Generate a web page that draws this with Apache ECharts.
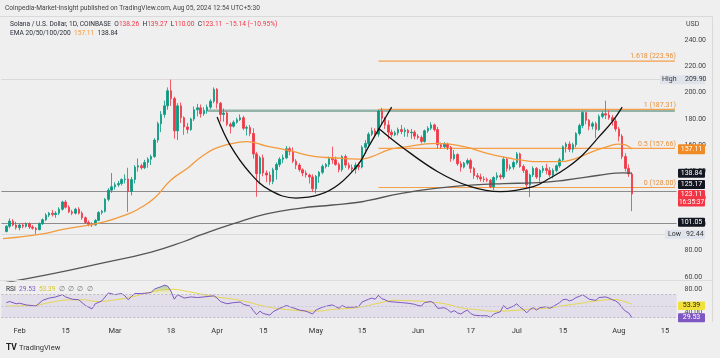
<!DOCTYPE html>
<html><head><meta charset="utf-8">
<script src="https://cdn.jsdelivr.net/npm/echarts@6.0.0/dist/echarts.min.js"></script>
<style>html,body{margin:0;padding:0;background:#efefef;}#c{width:720px;height:358px;}</style>
</head><body><div id="c"></div>
<script>
// ---------- DATA ----------
const axisStart = '2024-01-27';
const axisDays = 205;
const candleStart = '2024-01-28';
// [open, close, low, high], one per day from candleStart
const ohlc = [
[94.5,98.5,94.0,99.5],[98.5,102.5,97.0,104.5],[102.5,99.5,98.5,104.0],[99.5,97.5,96.0,102.0],
// Feb
[97.5,99.5,95.5,100.5],[99.5,98.5,97.0,101.0],[98.5,100.5,97.5,101.5],[100.5,98.0,96.5,101.5],[98.0,97.0,96.0,99.5],
[97.0,96.0,92.44,98.0],[96.0,100.5,95.5,101.5],[100.5,103.5,99.5,104.5],[103.5,107.0,102.5,108.5],[107.0,108.5,105.5,109.5],
[108.5,107.5,106.0,111.0],[107.5,108.5,105.0,110.0],[108.5,111.5,107.0,113.0],[111.5,117.0,110.5,118.0],[117.0,113.0,112.0,118.5],
[113.0,109.5,108.5,114.5],[109.5,108.5,107.0,111.0],[108.5,111.5,107.5,112.5],[111.5,108.5,107.5,113.0],[108.5,105.0,103.5,110.0],
[105.0,101.5,100.5,106.0],[101.5,100.0,98.5,103.0],[100.0,99.5,98.0,101.5],[99.5,103.0,99.0,104.0],[103.0,109.0,102.5,110.0],
[109.0,110.0,107.5,111.0],[110.0,119.0,109.0,120.0],[119.0,126.0,117.5,127.5],[126.0,128.5,124.0,139.0],
// Mar
[128.5,130.0,126.5,132.0],[130.0,131.0,128.5,133.0],[131.0,134.0,129.5,135.0],[134.0,134.5,131.0,138.0],[134.5,125.0,109.5,143.0],
[125.0,134.0,122.0,136.0],[134.0,143.5,131.0,145.0],[143.5,144.5,140.0,150.0],[144.5,143.0,141.5,146.0],[143.0,147.0,142.0,149.0],
[147.0,149.5,143.0,151.0],[149.5,151.5,145.0,153.0],[151.5,164.0,150.5,165.5],[164.0,176.5,162.0,178.0],[176.5,183.5,170.0,186.0],
[183.5,190.0,181.0,194.0],[190.0,201.5,187.0,204.0],[201.5,195.5,190.0,209.9],[195.5,171.0,165.0,197.0],[171.0,190.0,164.0,192.0],
[190.0,181.0,177.0,192.5],[181.0,174.0,168.0,182.0],[174.0,172.0,169.0,177.0],[172.0,180.0,171.0,181.0],[180.0,187.0,178.5,189.5],
[187.0,188.5,182.0,191.5],[188.5,184.0,181.0,191.0],[184.0,186.5,182.5,189.0],[186.5,189.0,184.0,191.0],[189.0,193.5,187.5,195.0],
[193.5,202.5,192.0,204.0],
// Apr
[202.5,192.0,188.0,203.5],[192.0,183.5,178.0,193.0],[183.5,184.5,178.0,188.0],[184.5,176.0,174.5,186.0],[176.0,174.5,169.0,177.5],
[174.5,177.5,173.5,179.0],[177.5,179.5,176.5,181.0],[179.5,181.0,178.5,183.5],[181.0,173.0,171.5,182.5],[173.0,173.5,167.5,175.0],
[173.5,169.0,167.0,175.5],[169.0,153.5,150.0,173.0],[153.5,138.5,121.0,155.0],[138.5,150.5,130.5,152.0],[150.5,139.0,136.5,153.0],
[139.0,137.5,132.0,141.0],[137.5,132.5,130.0,140.0],[132.5,141.5,130.5,143.0],[141.5,145.5,134.0,147.0],[145.5,149.5,143.5,151.0],
[149.5,150.5,146.5,153.0],[150.5,157.5,149.5,159.5],[157.5,155.5,152.5,159.0],[155.5,148.0,146.5,158.5],[148.0,145.0,142.0,149.5],
[145.0,141.5,140.0,146.5],[141.5,139.0,136.5,142.5],[139.0,137.5,135.5,141.0],[137.5,136.0,131.0,138.5],[136.0,127.0,124.5,138.0],
// May
[127.0,136.5,123.5,137.5],[136.5,139.5,131.5,140.5],[139.5,144.0,138.0,145.5],[144.0,145.5,142.5,146.5],[145.5,150.0,143.5,151.5],
[150.0,149.0,146.0,159.0],[149.0,145.5,144.5,151.5],[145.5,141.5,139.5,147.0],[141.5,151.5,140.0,152.5],[151.5,145.0,143.0,153.0],
[145.0,143.0,141.5,147.0],[143.0,142.0,140.0,145.5],[142.0,145.0,138.5,147.0],[145.0,143.5,141.0,147.0],[143.5,158.5,142.5,160.0],
[158.5,161.5,155.5,164.0],[161.5,168.5,160.0,170.0],[168.5,171.0,167.0,173.5],[171.0,168.5,166.0,173.0],[168.5,186.0,166.5,187.0],
[186.0,180.5,176.0,188.5],[180.5,175.5,172.5,181.5],[175.5,170.0,164.5,179.0],[170.0,168.0,166.0,172.0],[168.0,169.5,167.0,171.0],
[169.5,172.0,167.5,173.5],[172.0,170.5,168.5,175.5],[170.5,171.5,166.5,173.5],[171.5,169.5,166.5,172.5],[169.5,170.0,165.0,172.5],
[170.0,167.0,164.5,171.5],
// Jun
[167.0,166.0,164.5,168.5],[166.0,163.0,161.5,167.5],[163.0,171.0,162.0,172.0],[171.0,173.0,169.5,174.5],[173.0,175.5,171.5,177.5],
[175.5,172.0,170.5,176.5],[172.0,160.5,157.5,174.0],[160.5,159.0,157.5,162.0],[159.0,161.0,158.0,162.5],[161.0,158.5,156.5,162.0],
[158.5,150.0,147.5,159.5],[150.0,153.0,148.5,156.5],[153.0,146.0,144.5,154.0],[146.0,143.5,140.0,148.0],[143.5,146.5,142.5,147.5],
[146.5,148.5,145.0,150.0],[148.5,142.5,139.0,150.0],[142.5,137.0,134.5,143.5],[137.0,136.0,134.0,139.0],[136.0,134.5,132.5,138.5],
[134.5,134.0,132.0,136.5],[134.0,133.5,132.0,135.5],[133.5,128.5,127.5,134.5],[128.5,135.5,126.0,136.5],[135.5,137.0,133.5,139.5],
[137.0,136.0,134.0,138.5],[136.0,149.5,134.5,151.5],[149.5,142.5,140.0,151.0],[142.5,143.5,141.0,145.5],[143.5,147.0,141.5,148.5],
// Jul
[147.0,153.5,145.5,155.0],[153.5,144.0,143.0,154.5],[144.0,141.0,139.0,145.5],[141.0,130.0,128.0,142.0],[130.0,137.5,120.8,138.5],
[137.5,142.5,136.0,144.0],[142.5,136.0,134.5,143.5],[136.0,141.0,132.5,142.0],[141.0,142.5,139.0,144.5],[142.5,141.0,138.0,146.0],
[141.0,137.5,136.0,143.5],[137.5,141.0,135.0,142.5],[141.0,144.5,139.5,145.5],[144.5,149.0,143.0,150.5],[149.0,159.0,147.5,160.0],
[159.0,161.0,154.5,162.5],[161.0,157.0,155.0,163.0],[157.0,160.5,154.5,162.0],[160.5,169.0,158.5,170.0],[169.0,175.0,167.5,176.5],
[175.0,185.0,173.0,186.0],[185.0,179.0,176.0,185.5],[179.0,174.5,171.5,180.0],[174.5,176.5,172.0,178.0],[176.5,172.0,165.5,178.0],
[172.0,182.0,171.0,183.5],[182.0,184.0,180.5,186.0],[184.0,183.0,180.0,193.9],[183.0,181.0,179.5,186.5],[181.0,178.5,175.0,183.0],
[178.5,172.5,170.5,180.5],
// Aug
[172.5,167.0,163.0,174.0],[167.0,151.5,149.5,168.5],[151.5,142.5,140.0,154.0],[142.5,138.26,136.0,145.5],[138.26,123.11,110.00,139.27]
];
const ema50 = [['2024-01-27',89.2],['2024-02-06',92],['2024-02-15',96.5],['2024-02-22',99.5],['2024-02-27',102],['2024-03-05',108],['2024-03-08',111.5],['2024-03-13',120],['2024-03-18',133.7],['2024-03-23',142.6],['2024-03-28',152.7],['2024-04-02',159],['2024-04-07',162],['2024-04-10',162.8],['2024-04-16',159.5],['2024-04-23',156],['2024-05-01',151.4],['2024-05-06',150.6],['2024-05-14',149.6],['2024-05-18',151.5],['2024-05-23',156.5],['2024-05-27',158.5],['2024-06-07',161.5],['2024-06-15',159],['2024-06-22',154],['2024-06-29',150.2],['2024-07-02',148.9],['2024-07-08',147.6],['2024-07-14',147.6],['2024-07-19',150.2],['2024-07-24',155.2],['2024-07-29',159.5],['2024-08-01',161],['2024-08-03',160.3],['2024-08-05',157.11]];
const ema200 = [['2024-01-27',55.5],['2024-02-10',62],['2024-02-25',70],['2024-03-12',79],['2024-03-22',87],['2024-03-27',92],['2024-04-06',100.5],['2024-04-16',107.9],['2024-04-26',112.2],['2024-05-06',114.7],['2024-05-14',116.8],['2024-05-17',118.2],['2024-05-27',123.5],['2024-06-07',127.5],['2024-06-17',129.8],['2024-06-27',131],['2024-07-06',131.5],['2024-07-16',133.7],['2024-07-26',137.3],['2024-07-31',138.9],['2024-08-02',139.1],['2024-08-05',138.84]];
const rsi = [['2024-01-28',56],['2024-01-29',58],['2024-01-31',54],['2024-02-01',55],['2024-02-03',52],['2024-02-06',50],['2024-02-08',60],['2024-02-10',64],['2024-02-12',66],['2024-02-14',70],['2024-02-15',66],['2024-02-17',62],['2024-02-19',61],['2024-02-21',51],['2024-02-23',45],['2024-02-24',54],['2024-02-26',59],['2024-02-27',66],['2024-02-28',73],['2024-03-01',70],['2024-03-03',72],['2024-03-04',68],['2024-03-05',61],['2024-03-06',67],['2024-03-07',72],['2024-03-09',72],['2024-03-11',73],['2024-03-12',74],['2024-03-13',80],['2024-03-15',84],['2024-03-16',86.7],['2024-03-17',85],['2024-03-18',76],['2024-03-19',62],['2024-03-20',70],['2024-03-22',64],['2024-03-24',66],['2024-03-26',65],['2024-03-28',66],['2024-03-31',68],['2024-04-01',64],['2024-04-02',58],['2024-04-04',54],['2024-04-06',56],['2024-04-08',57],['2024-04-09',53],['2024-04-11',50],['2024-04-12',42],['2024-04-13',35],['2024-04-14',41],['2024-04-15',37],['2024-04-17',34],['2024-04-18',40],['2024-04-20',46],['2024-04-22',51],['2024-04-24',47],['2024-04-26',43],['2024-04-28',41],['2024-04-30',36],['2024-05-01',43],['2024-05-03',48],['2024-05-05',51],['2024-05-06',52],['2024-05-08',46],['2024-05-09',51],['2024-05-10',48],['2024-05-12',48],['2024-05-14',49],['2024-05-15',57],['2024-05-17',62],['2024-05-18',64],['2024-05-19',62],['2024-05-20',69],['2024-05-21',63],['2024-05-22',61],['2024-05-23',58],['2024-05-25',57],['2024-05-27',56],['2024-05-29',55],['2024-05-31',53],['2024-06-01',51],['2024-06-02',50],['2024-06-03',56],['2024-06-05',58],['2024-06-06',54],['2024-06-07',46],['2024-06-09',47],['2024-06-10',44],['2024-06-11',39],['2024-06-12',42],['2024-06-13',38],['2024-06-14',36],['2024-06-15',40],['2024-06-16',43],['2024-06-17',37],['2024-06-18',34],['2024-06-20',33],['2024-06-22',33],['2024-06-23',30],['2024-06-24',36],['2024-06-26',40],['2024-06-27',51],['2024-06-28',45],['2024-06-30',50],['2024-07-01',54],['2024-07-02',48],['2024-07-03',44],['2024-07-04',38],['2024-07-05',44],['2024-07-06',47],['2024-07-07',43],['2024-07-08',47],['2024-07-10',49],['2024-07-11',46],['2024-07-12',49],['2024-07-14',56],['2024-07-15',61],['2024-07-16',62],['2024-07-17',59],['2024-07-18',61],['2024-07-19',65],['2024-07-20',67],['2024-07-21',70],['2024-07-22',66],['2024-07-23',62],['2024-07-25',60],['2024-07-26',65],['2024-07-28',66],['2024-07-29',64],['2024-07-30',61],['2024-07-31',59],['2024-08-01',55],['2024-08-02',47],['2024-08-03',41],['2024-08-04',38],['2024-08-05',29.53]];
const rsiMa = [['2024-01-28',50],['2024-02-05',51],['2024-02-10',56],['2024-02-15',60.5],['2024-02-20',61],['2024-02-25',58],['2024-03-01',61],['2024-03-06',66],['2024-03-13',76],['2024-03-18',79.4],['2024-03-23',75.6],['2024-03-31',66.7],['2024-04-08',60],['2024-04-16',49],['2024-04-22',44],['2024-05-01',41.1],['2024-05-06',43.9],['2024-05-14',47.8],['2024-05-20',55],['2024-05-25',60],['2024-05-31',59],['2024-06-05',57],['2024-06-10',53],['2024-06-14',47],['2024-06-20',43],['2024-06-24',41],['2024-07-01',42.5],['2024-07-06',45],['2024-07-10',46],['2024-07-15',50.5],['2024-07-20',54.5],['2024-07-25',59],['2024-07-31',61.5],['2024-08-02',59],['2024-08-05',53.39]];
const cup1 = [['2024-04-01',181.5],['2024-04-05',160],['2024-04-11',139],['2024-04-17',126],['2024-04-25',120],['2024-05-02',122.5],['2024-05-08',130.5],['2024-05-14',146],['2024-05-17',159],['2024-05-20',172],['2024-05-24',189]];
const cup2 = [['2024-05-20',173],['2024-05-27',159],['2024-06-07',140],['2024-06-17',128.6],['2024-06-26',124.8],['2024-07-06',128.6],['2024-07-11',135],['2024-07-16',142.6],['2024-07-21',152.7],['2024-07-26',166.6],['2024-07-30',178],['2024-08-02',189]];
const necklineStart = '2024-03-29', necklinePrice = 186.3;
const fibStart = '2024-05-20';
const fibRatios = ['1.618','1','0.5','0'];
const fibPrices = [223.96,187.31,157.66,128.00];
const levelLines = [125.17, 101.05];
const highLow = [209.90, 92.44];
const priceTicks = [60,80,100,120,140,160,180,200,220,240];
const rsiTicks = [40,80];
const rsiBands = [70,50,30];
const xTickDates = ['2024-02-01','2024-02-15','2024-03-01','2024-03-18','2024-04-01','2024-04-15','2024-05-01','2024-05-15','2024-06-01','2024-06-17','2024-07-01','2024-07-15','2024-08-01','2024-08-15'];
const xTickLabels = ['Feb','15','Mar','18','Apr','15','May','15','Jun','17','Jul','15','Aug','15'];

// ---------- BUILD ----------
function dayStr(base, n){ const t=new Date(base+'T00:00:00Z'); t.setUTCDate(t.getUTCDate()+n); return t.toISOString().slice(0,10); }
const categories = []; for (let i=0;i<axisDays;i++) categories.push(dayStr(axisStart,i));
const lastCat = categories[categories.length-1];
const candleData = ohlc.map((v,i)=>[dayStr(candleStart,i), v[0], v[1], v[2], v[3]]);
const tickMap = {}; xTickDates.forEach((d,i)=>tickMap[d]=xTickLabels[i]);

const FONTN = 'Roboto';
const GREEN='#089981', RED='#f23645', ORANGE='#f39a3c', FIB='#f7a04c', PURPLE='#7e57c2', YELLOW='#e6d64a';

const chart = echarts.init(document.getElementById('c'), null, {width:720, height:358});
const levelMarks = [];
levelLines.forEach(v=>levelMarks.push({yAxis:v, lineStyle:{color:'#8c8c8c', width:1, type:'solid'}}));
highLow.forEach(v=>levelMarks.push({yAxis:v, lineStyle:{color:'#d9d9d9', width:1, type:'solid'}}));
const fibSeries = fibPrices.map((p,i)=>({
  type:'line', xAxisIndex:0, yAxisIndex:0, silent:true, symbol:'none', z:2,
  data:[[fibStart,p],[lastCat,p]], lineStyle:{color:FIB, width:1.2},
  endLabel:{show:true, formatter: fibRatios[i]+' ('+p.toFixed(2)+')', align:'right', verticalAlign:'bottom', distance:1, offset:[0,-1],
    color:'#e8903a', fontSize:7, fontFamily:FONTN}
}));

const option = {
  animation:false,
  backgroundColor:'#efefef',
  grid:[{left:1.4, right:43.5, top:40, height:241},{left:1.4, right:43.5, top:281, height:41}],
  xAxis:[
    {type:'category', data:categories, gridIndex:0, show:false},
    {type:'category', data:categories, gridIndex:1, axisLine:{show:false}, axisTick:{show:false}, splitLine:{show:false},
     axisLabel:{interval:(i,v)=>tickMap[v]!==undefined, formatter:v=>tickMap[v]||'', fontSize:7.5, color:'#333', margin:5, fontFamily:FONTN}}
  ],
  yAxis:[
    {type:'value', gridIndex:0, position:'right', min:57, max:240, splitLine:{show:false}, axisLine:{show:false}, axisTick:{show:false},
     axisLabel:{customValues:priceTicks, formatter:v=>Number(v).toFixed(2), fontSize:7, color:'#444', margin:8, fontFamily:FONTN}},
    {type:'value', gridIndex:1, position:'right', min:22, max:94, splitLine:{show:false}, axisLine:{show:false}, axisTick:{show:false},
     axisLabel:{customValues:rsiTicks, formatter:v=>Number(v).toFixed(2), fontSize:7, color:'#444', margin:8, fontFamily:FONTN}}
  ],
  series:[
    {type:'line', name:'neck', xAxisIndex:0, yAxisIndex:0, data:[[necklineStart,necklinePrice],[lastCat,necklinePrice]], symbol:'none', silent:true,
     lineStyle:{color:'#93b3a9', width:2.6}, z:1},
    ...fibSeries,
    {type:'candlestick', xAxisIndex:0, yAxisIndex:0, data:candleData, encode:{x:0, y:[1,2,3,4]}, barWidth:2,
     itemStyle:{color:GREEN, color0:RED, borderColor:GREEN, borderColor0:RED, borderWidth:0.8}, z:3,
     markLine:{silent:true, symbol:['none','none'], label:{show:false}, data:levelMarks, z:2}},
    {type:'line', xAxisIndex:0, yAxisIndex:0, data:ema50, smooth:true, symbol:'none', lineStyle:{color:ORANGE, width:1.3}, z:4},
    {type:'line', xAxisIndex:0, yAxisIndex:0, data:ema200, smooth:true, symbol:'none', lineStyle:{color:'#555555', width:1.3}, z:4},
    {type:'line', xAxisIndex:0, yAxisIndex:0, data:cup1, smooth:0.4, symbol:'none', lineStyle:{color:'#111', width:1.3}, z:5},
    {type:'line', xAxisIndex:0, yAxisIndex:0, data:cup2, smooth:0.4, symbol:'none', lineStyle:{color:'#111', width:1.3}, z:5},
    {type:'line', xAxisIndex:1, yAxisIndex:1, data:rsiMa, smooth:true, symbol:'none', lineStyle:{color:YELLOW, width:1}, z:3},
    {type:'line', xAxisIndex:1, yAxisIndex:1, data:rsi, symbol:'none', lineStyle:{color:PURPLE, width:1}, z:4,
     areaStyle:{origin:70, color:new echarts.graphic.LinearGradient(0,283,0,296,[{offset:0,color:'rgba(8,153,129,0.8)'},{offset:0.55,color:'rgba(200,205,90,0.55)'},{offset:1,color:'rgba(230,220,90,0)'}], true)},
     markArea:{silent:true, itemStyle:{color:'rgba(126,87,194,0.10)'}, data:[[{yAxis:30},{yAxis:70}]]},
     markLine:{silent:true, symbol:['none','none'], label:{show:false},
       data:rsiBands.map(v=>({yAxis:v, lineStyle:{color: v===50?'#c9c6d6':'#b9b6c8', width:1, type:[2,2]}}))}}
  ]
};
chart.setOption(option);

// ---------- ANNOTATIONS (text, tags) ----------
const ctx = document.createElement('canvas').getContext('2d');
function runs(x, y, parts, size, weight){
  const f = (weight||'normal')+' '+size+'px '+FONTN; ctx.font = f; const out=[];
  parts.forEach(([t,c])=>{ out.push({type:'text', x, y, z:100, style:{text:t, fill:c, font:f, textVerticalAlign:'middle'}}); x += ctx.measureText(t).width; });
  return out;
}
const yp = v => chart.convertToPixel({yAxisIndex:0}, v);
const yr = v => chart.convertToPixel({yAxisIndex:1}, v);
function tag(yc, text, bg, fg, h){
  return [{type:'rect', z:100, shape:{x:678, y:yc-h/2, width:27, height:h, r:1}, style:{fill:bg}},
          {type:'text', z:101, x:691.5, y:yc, style:{text, fill:fg, font:'7px '+FONTN, textAlign:'center', textVerticalAlign:'middle'}}];
}
const DARK='#2a2e39';
let g = [];
g.push({type:'line', z:90, shape:{x1:0,y1:16.5,x2:712.5,y2:16.5}, style:{stroke:'#d9d9d9', lineWidth:1}});
g.push({type:'line', z:90, shape:{x1:712.5,y1:16.5,x2:712.5,y2:322}, style:{stroke:'#d9d9d9', lineWidth:1}});
g.push({type:'line', z:90, shape:{x1:0,y1:280.5,x2:712.5,y2:280.5}, style:{stroke:'#dcdcdc', lineWidth:1}});
g = g.concat(runs(5, 8, [['Coinpedia-Market-Insight published on TradingView.com, Aug 05, 2024 12:54 UTC+5:30','#444']], 6.6));
g = g.concat(runs(10, 24, [['Solana / U.S. Dollar, 1D, COINBASE  ',DARK],['O',DARK],['138.26',RED],['  H',DARK],['139.27',RED],['  L',DARK],['110.00',RED],['  C',DARK],['123.11',RED],['  \u221215.14 (\u221210.95%)',RED]], 6.6));
g = g.concat(runs(10, 33, [['EMA 20/50/100/200  ',DARK],['157.11',ORANGE],['  138.84',DARK]], 6.6));
g = g.concat(runs(6, 289, [['RSI  ',DARK],['29.53',PURPLE],['  ',DARK],['53.39','#d9c52a'],['  \u2205  \u2205  \u2205  \u2205','#777']], 6.6));
g = g.concat(runs(6, 348, [['TV','#222']], 8.5, 'bold'));
g = g.concat(runs(19, 348, [['TradingView','#333']], 7.5));
g.push({type:'text', z:100, x:686, y:24, style:{text:'USD', fill:'#444', font:'7px '+FONTN, textVerticalAlign:'middle'}});
// High / Low rows
const yH = yp(highLow[0]), yL = yp(highLow[1]);
g.push({type:'rect', z:99, shape:{x:660, y:yH-4.5, width:45, height:9}, style:{fill:'#dfe3ec'}});
g.push({type:'text', z:100, x:662, y:yH, style:{text:'High', fill:'#333', font:'7px '+FONTN, textVerticalAlign:'middle'}});
g.push({type:'text', z:100, x:685, y:yH, style:{text:highLow[0].toFixed(2), fill:'#333', font:'7px '+FONTN, textVerticalAlign:'middle'}});
g.push({type:'rect', z:99, shape:{x:665, y:yL-4.5, width:40, height:9}, style:{fill:'#dfe3ec'}});
g.push({type:'text', z:100, x:668, y:yL, style:{text:'Low', fill:'#333', font:'7px '+FONTN, textVerticalAlign:'middle'}});
g.push({type:'text', z:100, x:686, y:yL, style:{text:highLow[1].toFixed(2), fill:'#333', font:'7px '+FONTN, textVerticalAlign:'middle'}});
// price tags
g = g.concat(tag(yp(157.11), '157.11', '#f08a24', '#fff', 10));
g = g.concat(tag(yp(138.84), '138.84', '#131722', '#fff', 9));
const yRed = yp(123.11);
g.push({type:'rect', z:100, shape:{x:678, y:yRed-4, width:27, height:16.5, r:1}, style:{fill:'#f23645'}});
g.push({type:'text', z:101, x:691.5, y:yRed+0.5, style:{text:'123.11', fill:'#fff', font:'7px '+FONTN, textAlign:'center', textVerticalAlign:'middle'}});
g.push({type:'text', z:101, x:691.5, y:yRed+8.3, style:{text:'16:35:37', fill:'#fff', font:'6.5px '+FONTN, textAlign:'center', textVerticalAlign:'middle'}});
g = g.concat(tag(yRed-9.5, levelLines[0].toFixed(2), '#131722', '#fff', 9));
g = g.concat(tag(yp(levelLines[1])-0.8, levelLines[1].toFixed(2), '#131722', '#fff', 9));
g = g.concat(tag(yr(53.39)+1.5, '53.39', '#f2e03a', '#222', 8.5));
g = g.concat(tag(yr(29.53), '29.53', '#7e57c2', '#fff', 9));
chart.setOption({graphic:g});
</script></body></html>
